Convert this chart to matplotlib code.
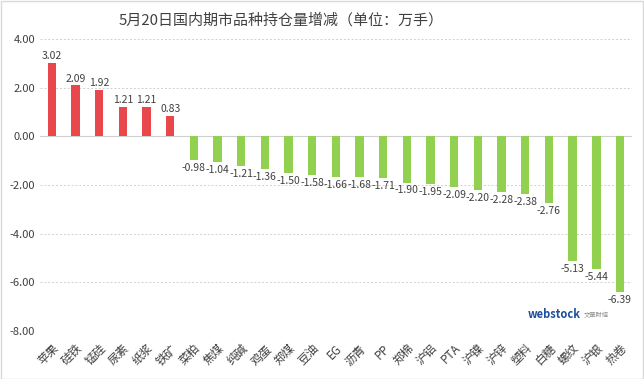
import numpy as np
import matplotlib.pyplot as plt

plt.rcParams['font.family'] = ['Noto Sans CJK SC', 'DejaVu Sans']

# --- données ---
categories = ["苹果", "硅铁", "锰硅", "尿素", "纸浆", "铁矿", "菜粕", "焦煤", "纯碱",
              "鸡蛋", "郑煤", "豆油", "EG", "沥青", "PP", "郑棉", "沪铝", "PTA",
              "沪镍", "沪锌", "塑料", "白糖", "螺纹", "沪银", "热卷"]
values = [3.02, 2.09, 1.92, 1.21, 1.21, 0.83, -0.98, -1.04, -1.21, -1.36, -1.50,
          -1.58, -1.66, -1.68, -1.71, -1.90, -1.95, -2.09, -2.20, -2.28, -2.38,
          -2.76, -5.13, -5.44, -6.39]
yticks = [4, 2, 0, -2, -4, -6, -8]

RED = "#E8484C"
GREEN = "#92D050"
TXT = "#404040"

fig = plt.figure(figsize=(6.44, 3.79), dpi=100)
ax = fig.add_axes([0.062, 0.127, 0.919, 0.770])

x = np.arange(len(categories))
colors = [RED if v > 0 else GREEN for v in values]
ax.bar(x, values, width=0.36, color=colors, zorder=3)

for xi, v in zip(x, values):
    if v > 0:
        ax.text(xi, v + 0.08, f"{v:.2f}", ha="center", va="bottom", fontsize=7.5, color=TXT)
    else:
        ax.text(xi, v - 0.12, f"{v:.2f}", ha="center", va="top", fontsize=7.5, color=TXT)

ax.set_xlim(-0.5, len(categories) - 0.5)
ax.set_ylim(-8, 4)
ax.set_yticks(yticks)
ax.set_yticklabels([f"{t:.2f}" for t in yticks], fontsize=8, color=TXT)
ax.set_xticks(x)
ax.set_xticklabels(categories, rotation=45, ha="right", rotation_mode="anchor",
                   fontsize=8.5, color=TXT)
ax.tick_params(axis="both", length=0)
ax.tick_params(axis="x", pad=8)

ax.grid(axis="y", color="#D0D0D0", linestyle=(0, (2, 2)), linewidth=0.7, zorder=0)
ax.axhline(0, color="#D0D0D0", linewidth=0.8, zorder=1)
for s in ax.spines.values():
    s.set_visible(False)

fig.text(281 / 644, 1 - 20 / 379, "5月20日国内期市品种持仓量增减（单位：万手）",
         ha="center", va="center", fontsize=10.8, color=TXT)

# logo
fig.text(528 / 644, 1 - 314 / 379, "webstock", fontsize=8, color="#1F4E9C",
         fontweight="bold", va="center")
fig.text(584 / 644, 1 - 315 / 379, "文華財經", fontsize=4.5, color="#909090", va="center")

# cadre
fig.patches.append(plt.Rectangle((0.001, 0.001), 0.997, 0.997, transform=fig.transFigure,
                                 fill=False, edgecolor="#D9D9D9", linewidth=1))

fig.savefig("out.png", dpi=100)
